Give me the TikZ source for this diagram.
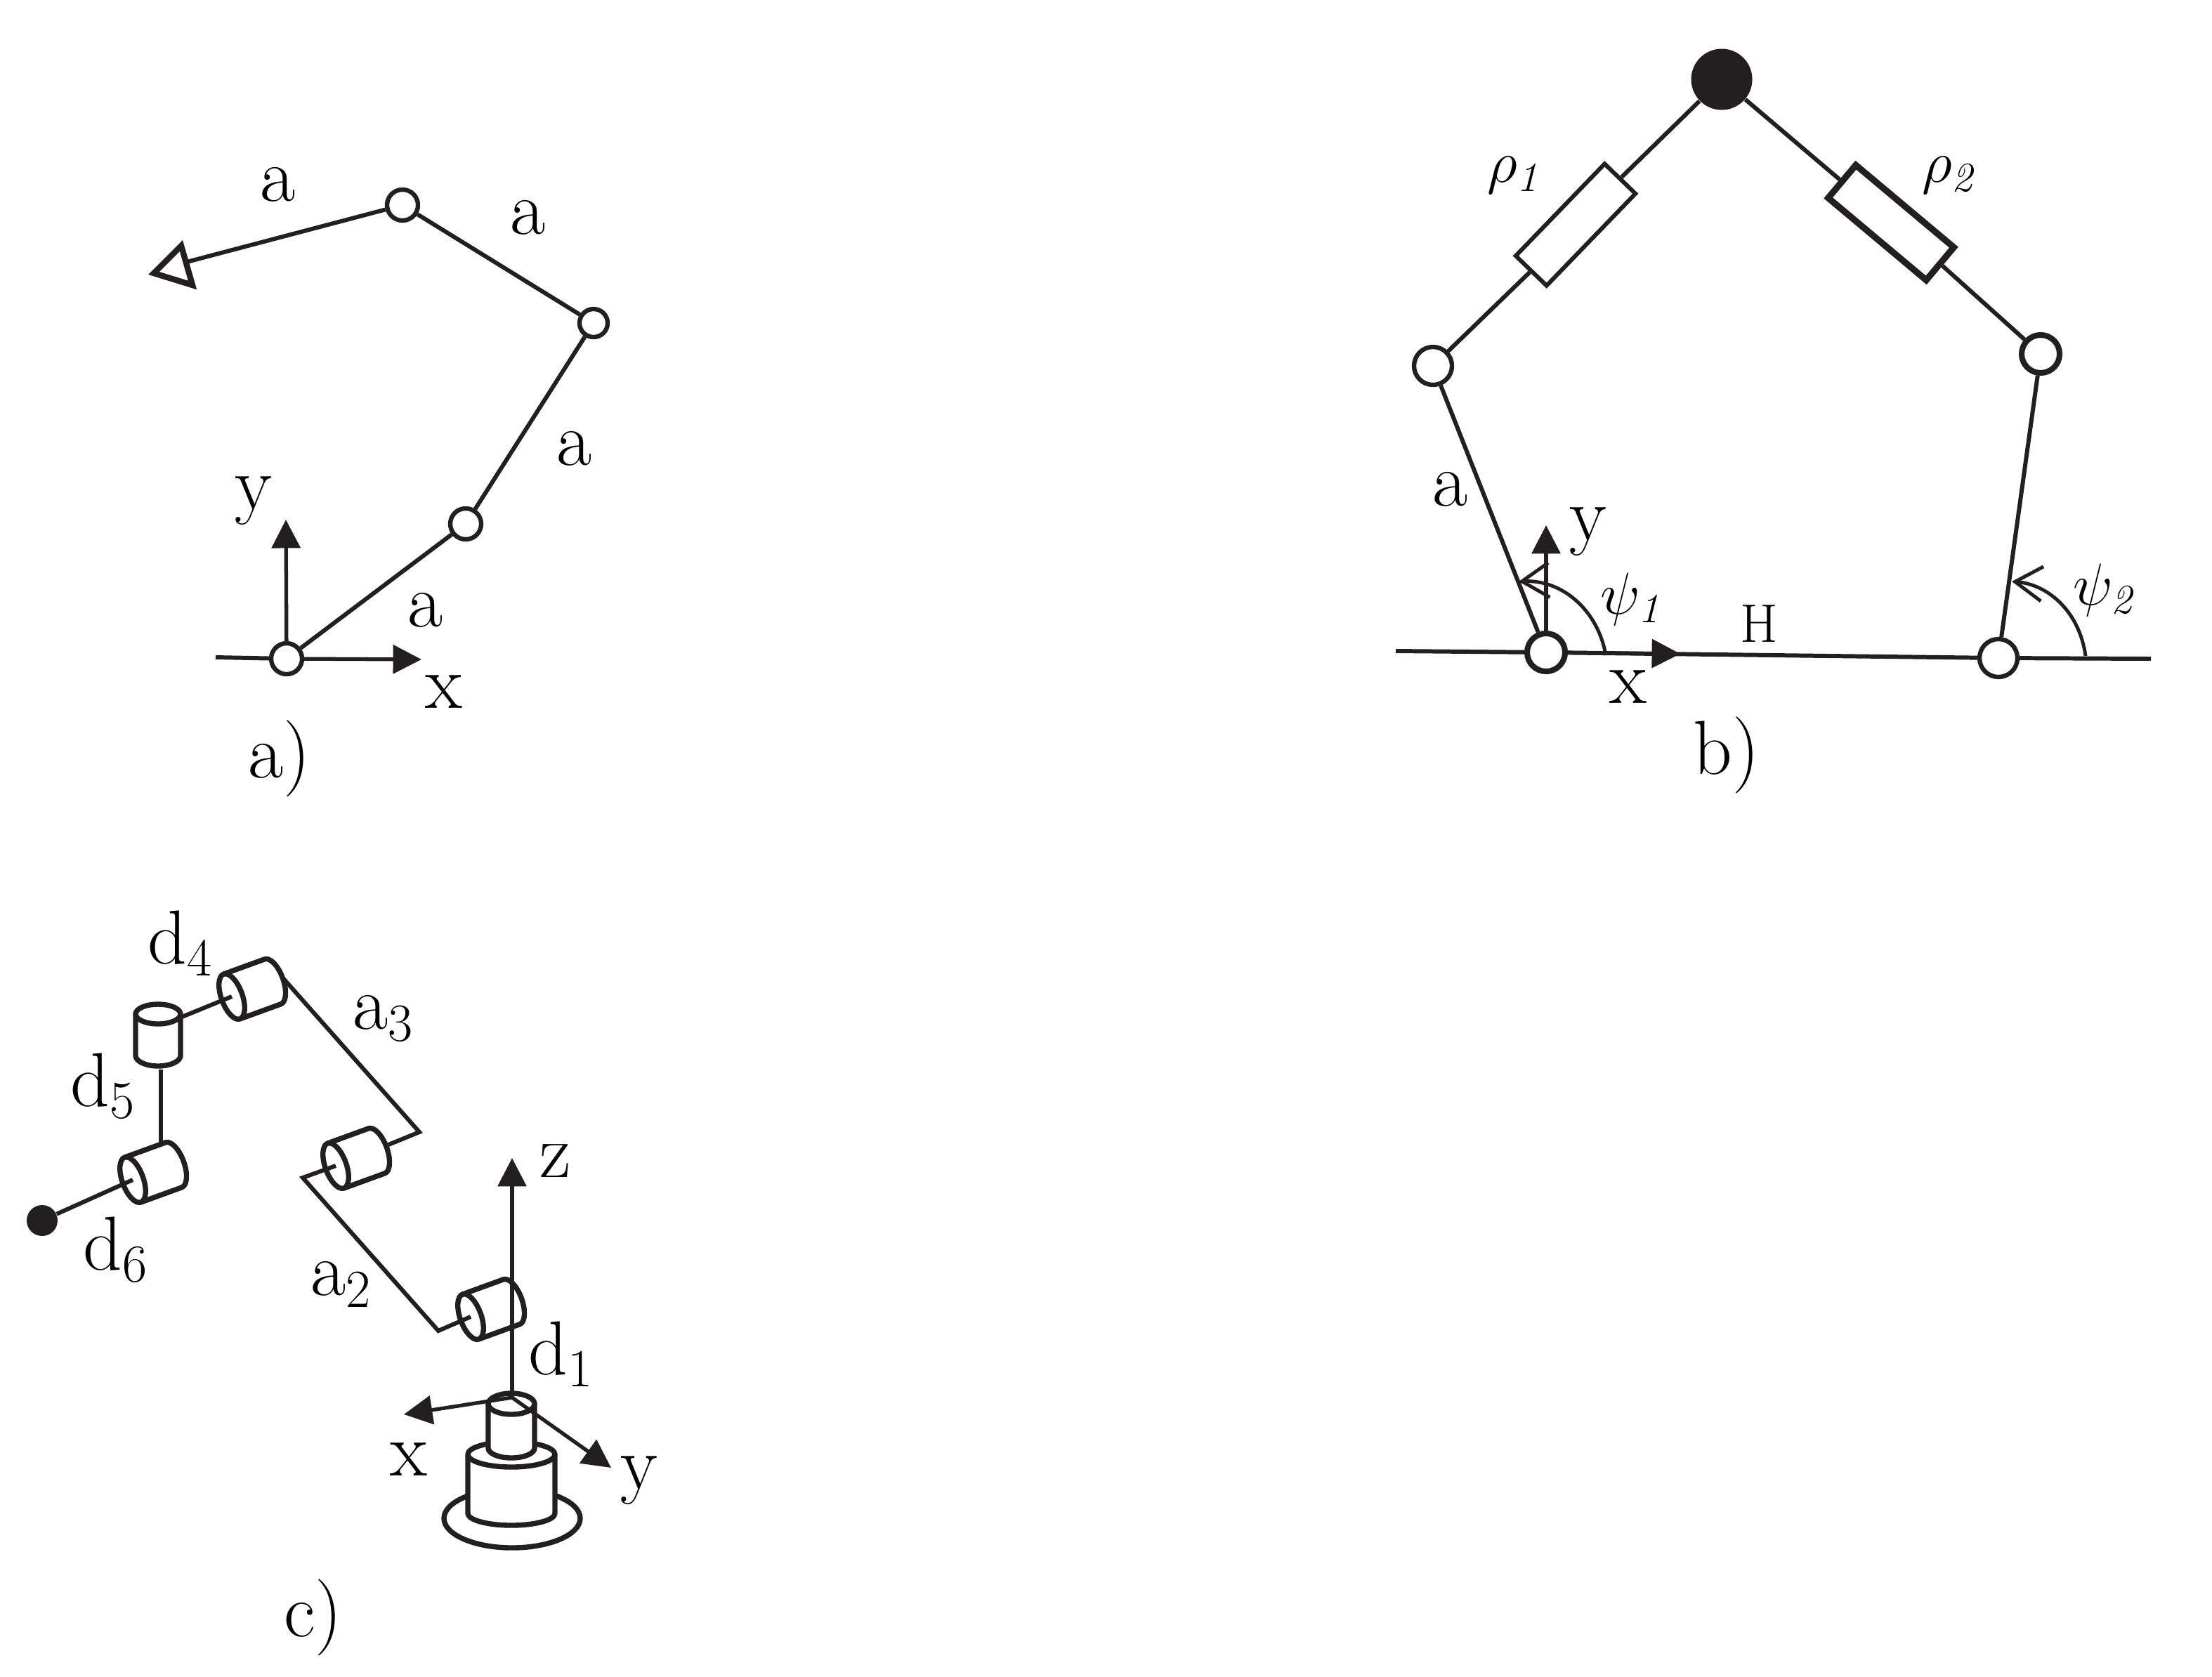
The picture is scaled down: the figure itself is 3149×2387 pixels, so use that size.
\documentclass[tikz,border=0pt]{standalone}
\usepackage{fix-cm}
\usepackage{tikz}
\usetikzlibrary{arrows.meta}

\definecolor{ink}{HTML}{231F20}

\begin{document}
\begin{tikzpicture}[
      x=0.01cm,
      y=0.01cm,
      ink,
      every node/.style={
          inner sep=0pt
        },
      joint/.style={
          circle,
          draw,
          fill=white,
          line width=1.8pt,
          minimum size=4.4mm
        },
      wjoint/.style={
          joint,
          line width=2.3pt,
          minimum size=5.4mm
        },
      solid/.style={
          circle,
          fill=ink,
          minimum size=8.7mm
        },
      link/.style={
          line width=1.7pt
        },
      axis/.style={
          -{Triangle[length=11.5pt,width=11.5pt]},
          line width=1.5pt
        },
      sweep/.style={
          -{Straight Barb[length=11pt,width=14pt]},
          line width=1.4pt
        },
      ram/.style={
          rectangle,
          draw,
          fill=white,
          line width=1.7pt,
          minimum width=18.2mm,
          minimum height=6.1mm
        },
      lbl/.style={
          text=black,
          font=\fontsize{31}{37}\selectfont
        },
      greek/.style={
          text=black,
          font=\fontsize{24}{28}\selectfont
        },
      small/.style={
          text=black,
          font=\fontsize{22}{26}\selectfont
        },
      cyl/.style={
          line width=2.1pt,
          fill=white,
          line join=round
        },
      roll/.pic={
          \draw[cyl] (0,34) -- (62,34) arc[start angle=90,end angle=-90,x radius=15,y radius=34] -- (0,-34);
          \draw[cyl] (0,0) ellipse [x radius=15,y radius=34];
        },
      drum/.pic={
          \draw[cyl] (-32,0) -- (-32,-59) arc[start angle=180,end angle=360,x radius=32,y radius=15] -- (32,0);
          \draw[cyl] (0,0) ellipse [x radius=32,y radius=14];
        }
    ]
    \useasboundingbox (0,0) rectangle (3149,-2387);

    % Panel a
    \node[joint] (base) at (408,-938) {};
    \node[joint] (ja) at (663,-746) {};
    \node[joint, minimum size=4mm] (jb) at (845,-460) {};
    \node[joint] (jc) at (573,-292) {};
    \coordinate (grip) at (266,-373);
    \coordinate (taila) at (307,-936);
    \coordinate (xa) at (600,-939);
    \coordinate (ya) at (407,-740);

    \draw[line width=2.4pt] (219,-389) -- (258,-350) -- (274,-406) -- cycle;
    \draw[link] (base) -- (ja);
    \draw[link] (ja) -- (jb);
    \draw[link] (jb) -- (jc);
    \draw[link] (jc) -- (grip);
    \draw[link] (taila) -- (base);
    \draw[axis] (base) -- (xa);
    \draw[axis] (base) -- (ya);

    \node[lbl] (la) at (396,-263) {a};
    \node[lbl] (lb) at (752,-310) {a};
    \node[lbl] (lc) at (818,-639) {a};
    \node[lbl] (ld) at (606,-869) {a};
    \node[lbl] (laby) at (361,-713) {y};
    \node[lbl] (labx) at (632,-985) {x};
    \node[lbl] (capa) at (398,-1080) {a)};

    % Panel b
    \node[solid] (top) at (2451,-113) {};
    \node[ram, rotate=46] (rhoa) at (2243,-320) {};
    \node[ram, rotate=-40, line width=2.6pt] (rhob) at (2692,-317) {};
    \node[joint, minimum size=5.4mm] (lj) at (2040,-521) {};
    \node[wjoint] (rj) at (2905,-504) {};
    \node[wjoint] (ob) at (2201,-929) {};
    \node[joint, minimum size=5.4mm] (oc) at (2845,-937) {};
    \coordinate (left) at (1987,-927);
    \coordinate (right) at (3062,-938);
    \coordinate (xb) at (2392,-931);
    \coordinate (yb) at (2201,-748);
    \coordinate (psia) at (2286,-933);
    \coordinate (psib) at (2162,-828);
    \coordinate (psic) at (2969,-934);
    \coordinate (psid) at (2864,-828);

    \draw[link] (top) -- (rhoa.east);
    \draw[link] (rhoa.west) -- (lj);
    \draw[link] (top) -- (rhob.west);
    \draw[link] (rhob.east) -- (rj);
    \draw[link] (lj) -- (ob);
    \draw[link] (rj) -- (oc);
    \draw[link] (left) -- (ob);
    \draw[link] (ob) -- (oc);
    \draw[link] (oc) -- (right);
    \draw[axis] (ob) -- (xb);
    \draw[axis] (ob) -- (yb);
    \draw[sweep] (psia) .. controls (2275,-870) and (2225,-825) .. (psib);
    \draw[sweep] (psic) .. controls (2960,-870) and (2915,-832) .. (psid);

    \node[greek] (lrhoa) at (2158,-250) {$\rho_{\mathit{1}}$};
    \node[greek] (lrhob) at (2777,-250) {$\rho_{\mathit{2}}$};
    \node[lbl] (le) at (2064,-697) {a};
    \node[lbl] (labyb) at (2261,-757) {y};
    \node[greek] (lpsia) at (2325,-853) {$\psi_{\mathit{1}}$};
    \node[greek] (lpsib) at (2998,-840) {$\psi_{\mathit{2}}$};
    \node[small] (lh) at (2504,-888) {H};
    \node[lbl] (labxb) at (2318,-978) {x};
    \node[lbl] (capb) at (2458,-1075) {b)};

    % Panel c
    \coordinate (tool) at (60,-1738);
    \node[solid, minimum size=4.4mm] (tip) at (tool) {};
    \coordinate (cd) at (330,-1419);
    \coordinate (ce) at (225,-1444);
    \coordinate (cf) at (189,-1680);
    \coordinate (cc) at (478,-1660);
    \coordinate (cb) at (670,-1875);
    \coordinate (cup) at (729,-1990);
    \coordinate (elbowa) at (597,-1612);
    \coordinate (elbowb) at (431,-1677);
    \coordinate (elbowc) at (624,-1895);
    \coordinate (backd) at (404,-1394);
    \coordinate (backc) at (553,-1630);
    \coordinate (drumb) at (229,-1523);
    \coordinate (drumr) at (259,-1448);
    \coordinate (rolltop) at (229,-1626);
    \coordinate (zc) at (729,-1649);
    \coordinate (xc) at (575,-2014);
    \coordinate (yc) at (870,-2090);

    \pic at (cd) [rotate=20] {roll};
    \pic at (ce) {drum};
    \pic at (cf) [rotate=20] {roll};
    \pic at (cc) [rotate=20] {roll};
    \draw[line width=2.1pt, fill=white] (729,-2162) ellipse [x radius=97, y radius=42];
    \draw[cyl] (666,-2071) -- (666,-2155) arc[start angle=180,end angle=360,x radius=62,y radius=17] -- (790,-2071);
    \draw[cyl] (728,-2071) ellipse [x radius=62, y radius=18];
    \draw[cyl] (695,-1999) -- (695,-2062) arc[start angle=180,end angle=360,x radius=33,y radius=14] -- (761,-1999);
    \draw[cyl] (728,-1999) ellipse [x radius=33, y radius=15];

    \draw[axis] (cup) -- (zc);
    \pic at (cb) [rotate=20] {roll};
    \draw[link] (cup) -- (729,-1821);
    \draw[axis] (cup) -- (xc);
    \draw[axis] (cup) -- (yc);
    \draw[link] (tip) -- (cf);
    \draw[link] (drumb) -- (rolltop);
    \draw[link] (drumr) -- (cd);
    \draw[link] (backd) -- (elbowa) -- (backc);
    \draw[link] (cc) -- (elbowb) -- (elbowc) -- (cb);

    \node[lbl] (ldd) at (257,-1343) {d$_4$};
    \node[lbl] (laa) at (546,-1450) {a$_3$};
    \node[lbl] (lde) at (147,-1546) {d$_5$};
    \node[lbl] (ldf) at (165,-1779) {d$_6$};
    \node[lbl] (lab) at (486,-1829) {a$_2$};
    \node[lbl] (ldb) at (799,-1928) {d$_1$};
    \node[lbl] (labz) at (791,-1653) {z};
    \node[lbl] (labxc) at (582,-2078) {x};
    \node[lbl] (labyc) at (910,-2108) {y};
    \node[lbl] (capc) at (446,-2303) {c)};
  \end{tikzpicture}
\end{document}
